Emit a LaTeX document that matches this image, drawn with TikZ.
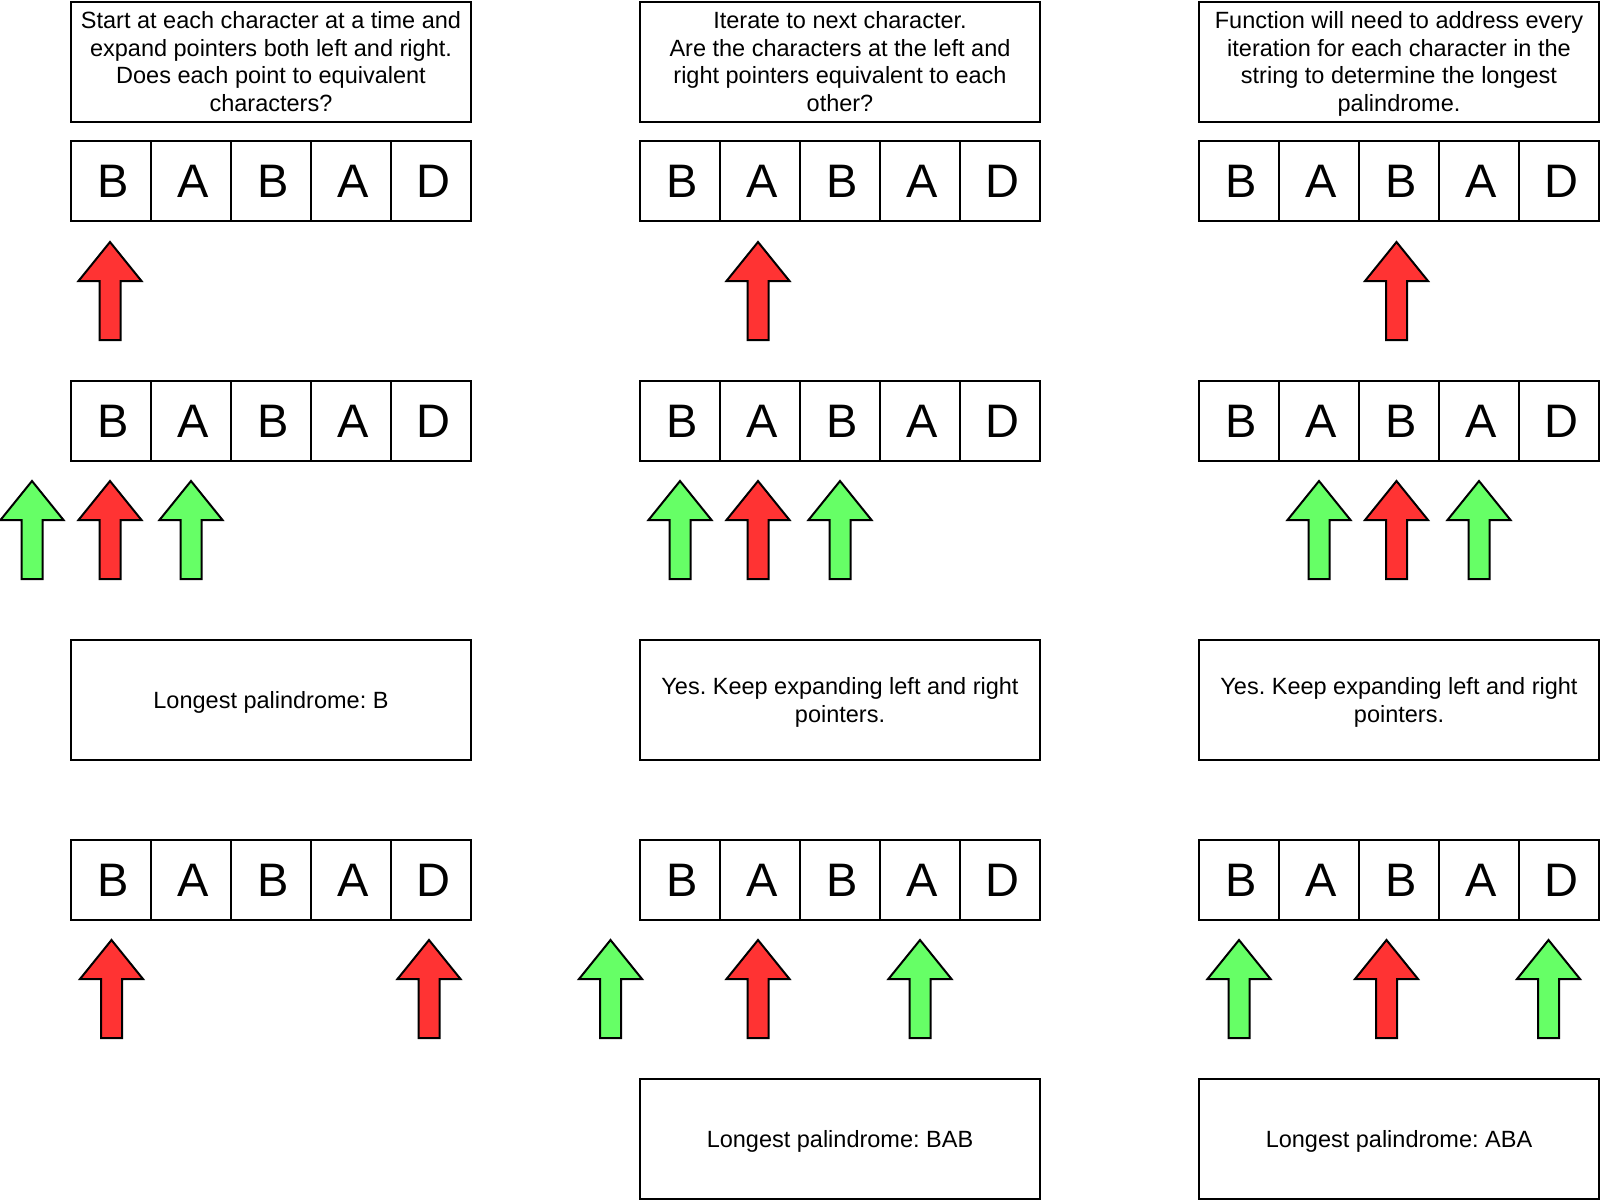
\documentclass[tikz,border=0pt]{standalone}
\usepackage{fontspec}
\setmainfont{Liberation Sans}
\frenchspacing
\definecolor{arrred}{HTML}{FF3333}
\definecolor{arrgreen}{HTML}{66FF66}
\newcommand\nodepth[1]{\raisebox{0pt}[\height][0pt]{#1}}
\tikzset{
  cellbox/.style={draw, line width=1pt, minimum width=40pt, minimum height=40pt, inner sep=0pt, font=\fontsize{23.5}{28}\selectfont},
  textbox/.style={draw, line width=1pt, minimum width=200pt, minimum height=60pt, inner sep=0pt, align=center, font=\fontsize{11.75}{13.8}\selectfont},
  uparrow/.pic={\draw[line width=1pt, line join=miter, pic actions] (0,0) -- (31.5,39) -- (10.5,39) -- (10.5,98) -- (-10.5,98) -- (-10.5,39) -- (-31.5,39) -- cycle;},
  redarr/.style={fill=arrred},
  greenarr/.style={fill=arrgreen},
}
\begin{document}
\begin{tikzpicture}[x=0.5pt, y=-0.5pt]
\useasboundingbox (0,0) rectangle (1600,1200);

% letter rows
\foreach \col/\L in {1/71, 2/640, 3/1199} {
  \foreach \row/\Y in {1/181, 2/421, 3/880} {
    \foreach \i/\ch in {1/B, 2/A, 3/B, 4/A, 5/D} {
      \node[cellbox] (c\col r\row n\i) at ({\L+80*\i-40},\Y) {\kern2pt\ch};
    }
  }
}

% text boxes
\node[textbox] (t1) at (271,61.5) {Start at each character at a time and\\expand pointers both left and right.\\Does each point to equivalent\\\nodepth{characters?}};
\node[textbox] (t2) at (840,61.5) {Iterate to next character.\\Are the characters at the left and\\right pointers equivalent to each\\\nodepth{other?}};
\node[textbox] (t3) at (1399,61.5) {Function will need to address every\\iteration for each character in the\\string to determine the longest\\\nodepth{palindrome.}};
\node[textbox] (m1) at (271,700) {\nodepth{Longest palindrome: B}};
\node[textbox] (m2) at (840,700) {Yes. Keep expanding left and right\\\nodepth{pointers.}};
\node[textbox] (m3) at (1399,700) {Yes. Keep expanding left and right\\\nodepth{pointers.}};
\node[textbox] (b2) at (840,1139) {\nodepth{Longest palindrome: BAB}};
\node[textbox] (b3) at (1399,1139) {\nodepth{Longest palindrome: ABA}};

% arrows column 1
\pic[redarr] at (110,242) {uparrow};
\pic[greenarr] at (32,481) {uparrow};
\pic[redarr] at (110,481) {uparrow};
\pic[greenarr] at (191,481) {uparrow};
\pic[redarr] at (111.5,940) {uparrow};
\pic[redarr] at (429,940) {uparrow};

% arrows column 2
\pic[redarr] at (758,242) {uparrow};
\pic[greenarr] at (680,481) {uparrow};
\pic[redarr] at (758,481) {uparrow};
\pic[greenarr] at (840,481) {uparrow};
\pic[greenarr] at (610.5,940) {uparrow};
\pic[redarr] at (758,940) {uparrow};
\pic[greenarr] at (920,940) {uparrow};

% arrows column 3
\pic[redarr] at (1396.5,242) {uparrow};
\pic[greenarr] at (1319,481) {uparrow};
\pic[redarr] at (1396.5,481) {uparrow};
\pic[greenarr] at (1479,481) {uparrow};
\pic[greenarr] at (1239,940) {uparrow};
\pic[redarr] at (1386.5,940) {uparrow};
\pic[greenarr] at (1548.5,940) {uparrow};
\end{tikzpicture}
\end{document}
